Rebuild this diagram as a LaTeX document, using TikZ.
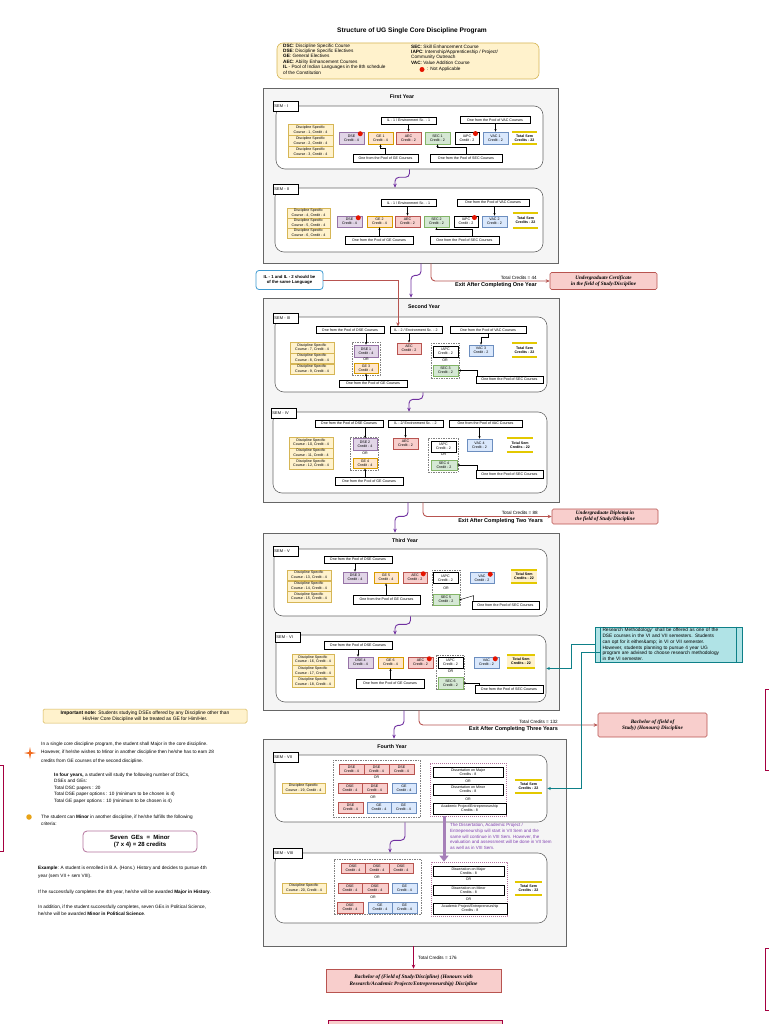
\documentclass[tikz,border=0pt]{standalone}
\usepackage{fontspec}
\setmainfont{Liberation Sans}
\newfontfamily\awardfont{Liberation Serif}
\usetikzlibrary{arrows.meta}

\definecolor{dscF}{HTML}{FFF2CC}\definecolor{dscD}{HTML}{D6B656}
\definecolor{dseF}{HTML}{E1D5E7}\definecolor{dseD}{HTML}{9673A6}
\definecolor{geF}{HTML}{FFE6CC}\definecolor{geD}{HTML}{D79B00}
\definecolor{aecF}{HTML}{F8CECC}\definecolor{aecD}{HTML}{B85450}
\definecolor{secF}{HTML}{D5E8D4}\definecolor{secD}{HTML}{82B366}
\definecolor{vacF}{HTML}{DAE8FC}\definecolor{vacD}{HTML}{6C8EBF}
\definecolor{barY}{HTML}{E3C800}
\definecolor{yearF}{HTML}{F5F5F5}\definecolor{yearD}{HTML}{666666}
\definecolor{linkP}{HTML}{7030A0}
\definecolor{exitR}{HTML}{B85450}
\definecolor{noteT}{HTML}{0E8088}\definecolor{noteF}{HTML}{B0E3E6}
\definecolor{finR}{HTML}{A50040}
\definecolor{dissD}{HTML}{B5739D}
\definecolor{naRed}{HTML}{E51400}
\definecolor{ilB}{HTML}{3D9AD1}
\definecolor{txtP}{HTML}{8040B0}
\definecolor{bigP}{HTML}{A680B8}
\definecolor{starO}{HTML}{F06A1E}
\definecolor{dotO}{HTML}{E8A317}

\newcommand{\boxfont}{\fontsize{3.6}{4.2}\selectfont}
\newcommand{\notefont}{\fontsize{4.7}{5.4}\selectfont}

\tikzset{
  course/.style={draw, line width=0.5pt, inner sep=0pt, align=center, font=\boxfont, minimum width=25pt, minimum height=11pt},
  dscbox/.style={course, fill=dscF, draw=dscD, minimum width=44pt, minimum height=10.5pt},
  dsebox/.style={course, fill=dseF, draw=dseD},
  gebox/.style={course, fill=geF, draw=geD},
  aecbox/.style={course, fill=aecF, draw=aecD},
  secbox/.style={course, fill=secF, draw=secD},
  vacbox/.style={course, fill=vacF, draw=vacD},
  iapcbox/.style={course, fill=white, draw=black, line width=0.9pt},
  poolbox/.style={course, fill=white, draw=black, line width=0.8pt, minimum width=68pt, minimum height=7pt},
  dissbox/.style={course, fill=white, draw=black, line width=0.9pt, minimum width=70pt, minimum height=10pt},
  semtotal/.style={inner sep=0pt, align=center, font=\boxfont\bfseries, minimum width=25pt, minimum height=13pt},
  ortext/.style={inner sep=0pt, font=\boxfont},
  yearbox/.style={draw=yearD, fill=yearF, line width=0.7pt, inner sep=0pt},
  sembox/.style={draw=yearD, fill=white, rounded corners=9pt, line width=0.6pt, inner sep=0pt},
  semtag/.style={draw=black, fill=white, line width=0.9pt, inner sep=1pt, text width=23pt, align=left, font=\fontsize{4}{5}\selectfont, anchor=west, minimum height=10pt},
  yeartitle/.style={font=\bfseries\fontsize{5.3}{6}\selectfont, inner sep=0pt},
  choicegrp/.style={draw=gray, line width=0.4pt, dash pattern=on 1.5pt off 1pt, inner sep=0pt},
  dissgrp/.style={draw=dissD, line width=0.8pt, dash pattern=on 0.8pt off 1.2pt, inner sep=0pt},
  nadot/.style={circle, fill=naRed, inner sep=0pt, minimum size=5pt},
  credbar/.style={draw=barY, line width=2pt},
  poolarrow/.style={draw=black, line width=0.4pt, -{Stealth[length=2.5pt,width=2pt]}},
  semarrow/.style={draw=linkP, line width=0.9pt, rounded corners=4pt, -{Stealth[length=4pt,width=3.5pt]}},
  exitarrow/.style={draw=exitR, line width=0.9pt, rounded corners=4pt, -{Stealth[length=4pt,width=3.5pt]}},
  finarrow/.style={draw=finR, line width=0.9pt, -{Stealth[length=4pt,width=3.5pt]}},
  notearrow/.style={draw=noteT, line width=0.7pt, -{Stealth[length=3.5pt,width=3pt]}},
  bigarrow/.style={draw=bigP, line width=3pt, -{Triangle[length=6pt,width=9pt]}},
  awardbox/.style={draw=aecD, fill=aecF, line width=0.6pt, rounded corners=1.5pt, align=center, inner sep=1pt, font=\awardfont\bfseries\itshape\fontsize{5.2}{6.4}\selectfont},
  credlabel/.style={font=\fontsize{4.6}{5}\selectfont, inner sep=0pt},
  exitlabel/.style={font=\bfseries\fontsize{5.5}{6}\selectfont, inner sep=0pt},
  notepara/.style={align=left, inner sep=0pt, anchor=west, font=\notefont},
}

\begin{document}
\begin{tikzpicture}[x=1pt,y=-1pt]
\path[use as bounding box, fill=white] (0,0) rectangle (768,1024);

% title and legend
\node[font=\bfseries\fontsize{6.6}{8}\selectfont] (title) at (412,31) {Structure of UG Single Core Discipline Program};
\node[draw=dscD, fill=dscF, rounded corners=6pt, line width=0.6pt, minimum width=262pt, minimum height=36pt] (legend) at (408,61) {};
\node[anchor=north west, align=left, inner sep=0pt, font=\notefont] (legl) at (283,43.5) {\textbf{DSC}: Discipline Specific Course\\\textbf{DSE}: Discipline Specific Electives\\\textbf{GE}: General Electives\\\textbf{AEC}: Ability Enhancement Courses\\\textbf{IL} - Pool of Indian Languages in the 8th schedule\\of the Constitution};
\node[anchor=north west, align=left, inner sep=0pt, font=\notefont] (legr) at (411,44.5) {\textbf{SEC}: Skill Enhancement Course\\\textbf{IAPC}: Internship/Apprenticeship / Project/\\Community Outreach\\\textbf{VAC}: Value Addition Course};
\node[nadot] (legna) at (422,69.5) {};
\node[anchor=west, inner sep=0pt, font=\notefont] (legnat) at (427,69.5) {: Not Applicable};

% year boxes
\node[yearbox, minimum width=295pt, minimum height=175pt] (y1) at (410.5,175.5) {};
\node[yearbox, minimum width=296pt, minimum height=204pt] (y2) at (411,400) {};
\node[yearbox, minimum width=296pt, minimum height=177pt] (y3) at (411,621.5) {};
\node[yearbox, minimum width=303pt, minimum height=207pt] (y4) at (414.5,842.5) {};
\node[yeartitle] (y1t) at (402,97) {First Year};
\node[yeartitle] (y2t) at (424,307) {Second Year};
\node[yeartitle] (y3t) at (405,541) {Third Year};
\node[yeartitle] (y4t) at (392,747) {Fourth Year};

% semester boxes
\node[sembox, minimum width=267pt, minimum height=63pt] (s1) at (409.5,137.5) {};
\node[sembox, minimum width=268pt, minimum height=64pt] (s2) at (409,220) {};
\node[sembox, minimum width=272pt, minimum height=75pt] (s3) at (411,354.5) {};
\node[sembox, minimum width=274pt, minimum height=81pt] (s4) at (410,452.5) {};
\node[sembox, minimum width=273pt, minimum height=67pt] (s5) at (410.5,582.5) {};
\node[sembox, minimum width=270pt, minimum height=67pt] (s6) at (411,668.5) {};
\node[sembox, minimum width=272pt, minimum height=67pt] (s7) at (411,788.5) {};
\node[sembox, minimum width=272pt, minimum height=70pt] (s8) at (411,888) {};
\node[semtag] (t1) at (273,106.5) {SEM - I};
\node[semtag] (t2) at (273,189) {SEM - II};
\node[semtag] (t3) at (273,318.5) {SEM - III};
\node[semtag] (t4) at (271,413.5) {SEM - IV};
\node[semtag] (t5) at (273,551) {SEM - V};
\node[semtag] (t6) at (275,637) {SEM - VI};
\node[semtag] (t7) at (273,757.5) {SEM - VII};
\node[semtag, text width=27pt] (t8) at (273,853) {SEM - VIII};

% SEM I
\foreach \i/\y in {1/130,2/141,3/152}
  \node[dscbox, minimum width=45pt] (s1c\i) at (310.5,\y) {Discipline Specific\\Course - \i, Credit - 4};
\node[dsebox, minimum height=12pt] (s1dse) at (351.5,138) {DSE\\Credit - 4};
\node[gebox, minimum height=12pt] (s1ge) at (380.5,138) {GE 1\\Credit - 4};
\node[aecbox, minimum height=12pt] (s1aec) at (408.5,138) {AEC\\Credit - 2};
\node[secbox, minimum height=12pt] (s1sec) at (437.5,138) {SEC 1\\Credit - 2};
\node[iapcbox, minimum width=24pt, minimum height=12pt] (s1iapc) at (467,138) {IAPC\\Credit - 2};
\node[vacbox, minimum height=12pt] (s1vac) at (495.5,138) {VAC 1\\Credit - 2};
\node[semtotal, minimum height=12pt] (s1tot) at (524.5,138) {Total Sem\\Credits - 22};
\node[poolbox, minimum width=55pt] (s1il) at (408.5,120.5) {IL - 1 / Environment Sc. - 1};
\node[poolbox, minimum width=70pt, minimum height=6.5pt] (s1vacl) at (495,120) {One from the Pool of VAC Courses};
\node[poolbox, minimum width=65pt, minimum height=8pt] (s1gel) at (385.5,158) {One from the Pool of GE Courses};
\node[poolbox, minimum width=72pt, minimum height=8pt] (s1secl) at (466,158) {One from the Pool of SEC Courses};
\draw[poolarrow] (s1il.south -| s1aec.north) -- (s1aec.north);
\draw[poolarrow] (s1vacl.south -| s1vac.north) -- (s1vac.north);
\draw[poolarrow] (s1gel.north) -- ++(0,-5) -| (s1ge.south);
\draw[poolarrow] (s1secl.north) -- ++(0,-6) -| (s1sec.south);

% SEM II
\foreach \i/\y [count=\k] in {4/213,5/223,6/233}
  \node[dscbox, minimum width=43pt, minimum height=10pt] (s2c\k) at (308.5,\y) {Discipline Specific\\Course - \i, Credit - 4};
\node[dsebox] (s2dse) at (349.5,221.5) {DSE\\Credit - 4};
\node[gebox] (s2ge) at (379.5,221.5) {GE 2\\Credit - 4};
\node[aecbox] (s2aec) at (407.5,221.5) {AEC\\Credit - 2};
\node[secbox] (s2sec) at (436.5,221.5) {SEC 2\\Credit - 2};
\node[iapcbox, minimum width=24pt] (s2iapc) at (466,221.5) {IAPC\\Credit - 2};
\node[vacbox] (s2vac) at (494.5,221.5) {VAC 2\\Credit - 2};
\node[semtotal, minimum height=15pt] (s2tot) at (525.5,220.5) {Total Sem\\Credits - 22};
\node[poolbox, minimum width=55pt] (s2il) at (408.5,203) {IL - 1 / Environment Sc. - 1};
\node[poolbox, minimum width=72pt] (s2vacl) at (493,202.5) {One from the Pool of VAC Courses};
\node[poolbox, minimum width=68pt, minimum height=7.5pt] (s2gel) at (379,240.5) {One from the Pool of GE Courses};
\node[poolbox, minimum width=69pt, minimum height=7.5pt] (s2secl) at (464.5,240.5) {One from the Pool of SEC Courses};
\draw[poolarrow] (s2il.south -| s2aec.north) -- (s2aec.north);
\draw[poolarrow] (s2vacl.south -| s2vac.north) -- (s2vac.north);
\draw[poolarrow] (s2gel.north -| s2ge.south) -- (s2ge.south);
\draw[poolarrow] ([xshift=7.5pt]s2secl.north) -- ++(0,-7) -| (s2sec.south);

% SEM III
\foreach \i/\y [count=\k] in {7/347.5,8/358,9/369}
  \node[dscbox] (s3c\k) at (312,\y) {Discipline Specific\\Course - \i, Credit - 4};
\node[choicegrp, minimum width=28pt, minimum height=33pt] (s3g1) at (366,358.5) {};
\node[dsebox, minimum width=24pt, minimum height=12pt] (s3dse) at (366,351) {DSE 1\\Credit - 4};
\node[ortext] (s3or1) at (366,359.5) {OR};
\node[gebox, minimum width=24pt, minimum height=10.5pt] (s3ge) at (366,368) {GE 3\\Credit - 4};
\node[aecbox, minimum width=24pt] (s3aec) at (409,348.5) {AEC\\Credit - 2};
\node[choicegrp, minimum width=28pt, minimum height=35pt] (s3g2) at (445,360.5) {};
\node[iapcbox] (s3iapc) at (445.5,351.5) {IAPC\\Credit - 2};
\node[ortext] (s3or2) at (445,360.5) {OR};
\node[secbox] (s3sec) at (445.5,370.5) {SEC 3\\Credit - 2};
\node[vacbox, minimum width=24pt] (s3vac) at (481,350.5) {VAC 3\\Credit - 2};
\node[semtotal, minimum height=14pt] (s3tot) at (524.5,350) {Total Sem\\Credits - 22};
\node[poolbox, minimum height=6.5pt] (s3dsel) at (350,330) {One from the Pool of DSE Courses};
\node[poolbox, minimum width=52pt, minimum height=6.5pt] (s3il) at (416,330) {IL - 2 / Environment Sc. - 2};
\node[poolbox, minimum width=76pt, minimum height=6.5pt] (s3vacl) at (488,330) {One from the Pool of VAC Courses};
\node[poolbox] (s3gel) at (373,383.5) {One from the Pool of GE Courses};
\node[poolbox, minimum width=67pt] (s3secl) at (509.5,379.5) {One from the Pool of SEC Courses};
\draw[poolarrow] (s3dsel.south -| s3dse.north) -- (s3dse.north);
\draw[poolarrow] (s3il.south -| s3aec.north) -- (s3aec.north);
\draw[poolarrow] (s3vacl.south) -- ++(0,4) -| (s3vac.north);
\draw[poolarrow] (s3gel.north -| s3ge.south) -- (s3ge.south);
\draw[poolarrow] ([xshift=2pt]s3secl.north west) |- (s3sec.east);

% SEM IV
\foreach \i/\y [count=\k] in {10/442.5,11/453,12/463.5}
  \node[dscbox] (s4c\k) at (311,\y) {Discipline Specific\\Course - \i, Credit - 4};
\node[choicegrp, minimum width=28pt, minimum height=33pt] (s4g1) at (364,453.5) {};
\node[dsebox, minimum width=24pt, minimum height=12pt] (s4dse) at (365,444.5) {DSE 2\\Credit - 4};
\node[ortext] (s4or1) at (365,453) {OR};
\node[gebox, minimum width=24pt, minimum height=10.5pt] (s4ge) at (365,463) {GE 4\\Credit - 4};
\node[aecbox] (s4aec) at (405.5,443.5) {AEC\\Credit - 2};
\node[choicegrp, minimum width=30pt, minimum height=34pt] (s4g2) at (443,455) {};
\node[iapcbox] (s4iapc) at (443.5,446.5) {IAPC\\Credit - 2};
\node[ortext] (s4or2) at (443.5,454.5) {OR};
\node[secbox, minimum width=26pt, minimum height=10pt] (s4sec) at (444,465) {SEC 4\\Credit - 2};
\node[vacbox, minimum height=12pt] (s4vac) at (479.5,445) {VAC 4\\Credit - 2};
\node[semtotal, minimum width=26pt, minimum height=14pt] (s4tot) at (520,445) {Total Sem\\Credits - 22};
\node[poolbox] (s4dsel) at (349,423.5) {One from the Pool of DSE Courses};
\node[poolbox, minimum width=55pt] (s4il) at (415.5,423.5) {IL - 2/ Environment Sc. - 2};
\node[poolbox, minimum width=73pt] (s4vacl) at (485.5,423.5) {One from the Pool of VAC Courses};
\node[poolbox, minimum height=8pt] (s4gel) at (369,481) {One from the Pool of GE Courses};
\node[poolbox, minimum width=67pt, minimum height=8pt] (s4secl) at (509.5,474) {One from the Pool of SEC Courses};
\draw[poolarrow] (s4dsel.south -| s4dse.north) -- (s4dse.north);
\draw[poolarrow] (s4il.south -| s4aec.north) -- (s4aec.north);
\draw[poolarrow] (s4vacl.south -| s4vac.north) -- (s4vac.north);
\draw[poolarrow] (s4gel.north -| s4ge.south) -- (s4ge.south);
\draw[poolarrow] ([xshift=2pt]s4secl.north west) |- (s4sec.east);

% SEM V
\foreach \i/\y [count=\k] in {13/575,14/586,15/596.5}
  \node[dscbox] (s5c\k) at (309,\y) {Discipline Specific\\Course - \i, Credit - 4};
\node[dsebox, minimum width=24pt] (s5dse) at (355,577.5) {DSE 3\\Credit - 4};
\node[gebox, minimum width=24pt] (s5ge) at (386,577.5) {GE 5\\Credit - 4};
\node[aecbox, minimum width=24pt] (s5aec) at (415,577.5) {AEC\\Credit - 2};
\node[choicegrp, minimum width=28pt, minimum height=35pt] (s5g) at (446,587.5) {};
\node[iapcbox, minimum height=10.5pt] (s5iapc) at (445.5,578) {IAPC\\Credit - 2};
\node[ortext] (s5or) at (446,588) {OR};
\node[secbox, minimum width=26pt] (s5sec) at (446,599.5) {SEC 5\\Credit - 2};
\node[vacbox, minimum width=24pt] (s5vac) at (482,578) {VAC\\Credit - 2};
\node[semtotal, fill=dscF, minimum width=26pt] (s5tot) at (524,576.5) {Total Sem\\Credits - 22};
\node[poolbox] (s5dsel) at (358,559.5) {One from the Pool of DSE Courses};
\node[poolbox, minimum width=67pt, minimum height=9pt] (s5gel) at (386.5,599.5) {One from the Pool of GE Courses};
\node[poolbox, minimum width=67pt, minimum height=8pt] (s5secl) at (505.5,605) {One from the Pool of SEC Courses};
\draw[poolarrow] (s5dsel.south -| s5dse.north) -- (s5dse.north);
\draw[poolarrow] (s5gel.north -| s5ge.south) -- (s5ge.south);
\draw[poolarrow] ([xshift=2pt]s5secl.north west) -- ++(0,-5) -- (s5sec.east |- 0,600);

% SEM VI
\foreach \i/\y [count=\k] in {16/659.5,17/671,18/682}
  \node[dscbox, minimum width=42pt, minimum height=11pt] (s6c\k) at (313,\y) {Discipline Specific\\Course - \i, Credit - 4};
\node[dsebox] (s6dse) at (360.5,662.5) {DSE 4\\Credit - 4};
\node[gebox] (s6ge) at (390.5,662.5) {GE 6\\Credit - 4};
\node[aecbox] (s6aec) at (420.5,662.5) {AEC\\Credit - 2};
\node[choicegrp, minimum width=28pt, minimum height=34pt] (s6g) at (450,672) {};
\node[iapcbox] (s6iapc) at (450.5,662.5) {IAPC\\Credit - 2};
\node[ortext] (s6or) at (450.5,671.5) {OR};
\node[secbox, minimum height=12pt] (s6sec) at (450.5,683) {SEC 6\\Credit - 2};
\node[vacbox] (s6vac) at (486.5,662.5) {VAC\\Credit - 2};
\node[semtotal, fill=dscF, minimum width=28pt] (s6tot) at (521,661.5) {Total Sem\\Credits - 22};
\node[poolbox, minimum height=8pt] (s6dsel) at (358,645) {One from the Pool of DSE Courses};
\node[poolbox, minimum height=9pt] (s6gel) at (390,683.5) {One from the Pool of GE Courses};
\node[poolbox, minimum height=8pt] (s6secl) at (509,689) {One from the Pool of SEC Courses};
\draw[poolarrow] (s6dsel.south) -- (s6dsel.south |- s6dse.north);
\draw[poolarrow] (s6gel.north -| s6ge.south) -- (s6ge.south);
\draw[poolarrow] ([xshift=5pt]s6secl.north west) |- (s6sec.east);

% SEM VII
\node[dscbox, minimum width=43pt, minimum height=10pt] (s7c) at (303.5,788) {Discipline Specific\\Course - 19, Credit - 4};
\node[choicegrp, minimum width=87pt, minimum height=57pt] (s7g) at (376.5,788.5) {};
\foreach \x/\n in {351.5/a,376.5/b,401.5/c}
  \node[aecbox, minimum height=10pt] (s7r1\n) at (\x,769) {DSE\\Credit - 4};
\node[ortext] (s7or1) at (376.5,777.5) {OR};
\node[aecbox, minimum width=24pt, minimum height=10pt] (s7r2a) at (350,788) {DSE\\Credit - 4};
\node[aecbox, minimum height=10pt] (s7r2b) at (374.5,788) {DSE\\Credit - 4};
\node[vacbox, minimum width=24pt, minimum height=10pt] (s7r2c) at (404,788) {GE\\Credit - 4};
\node[ortext] (s7or2) at (373,797) {OR};
\node[aecbox] (s7r3a) at (350.5,807.5) {DSE\\Credit - 4};
\node[vacbox, minimum width=24pt] (s7r3b) at (379,807.5) {GE\\Credit - 4};
\node[vacbox] (s7r3c) at (403.5,807.5) {GE\\Credit - 4};
\node[dissgrp, minimum width=76pt, minimum height=53pt] (s7dg) at (468,789.5) {};
\node[dissbox] (s7d1) at (468,772) {Dissertation on Major\\Credits - 8};
\node[ortext] (s7or3) at (468,781) {OR};
\node[dissbox, minimum height=11pt] (s7d2) at (468,789.5) {Dissertation on Minor\\Credits - 8};
\node[ortext] (s7or4) at (468,799) {OR};
\node[dissbox, minimum width=73pt, minimum height=11pt] (s7d3) at (469.5,808.5) {Academic Project/Entrepreneurship\\Credits - 8};
\node[semtotal, minimum width=27pt] (s7tot) at (528.5,786.5) {Total Sem\\Credits - 22};

% SEM VIII
\node[dscbox, minimum width=44pt, minimum height=10pt] (s8c) at (304,888) {Discipline Specific\\Course - 20, Credit - 4};
\node[choicegrp, minimum width=87pt, minimum height=55pt] (s8g) at (377.5,886.5) {};
\foreach \x/\n in {353/a,377/b,401/c}
  \node[aecbox, minimum width=24pt, minimum height=10pt] (s8r1\n) at (\x,868) {DSE\\Credit - 4};
\node[ortext] (s8or1) at (377,877) {OR};
\node[aecbox, minimum width=24pt, minimum height=10pt] (s8r2a) at (350,888) {DSE\\Credit - 4};
\node[aecbox, minimum width=26pt, minimum height=10pt] (s8r2b) at (375,888) {DSE\\Credit - 4};
\node[vacbox, minimum height=10pt] (s8r2c) at (404.5,888) {GE\\Credit - 4};
\node[ortext] (s8or2) at (373,897) {OR};
\node[aecbox, minimum width=26pt] (s8r3a) at (350,907.5) {DSE\\Credit - 4};
\node[vacbox, minimum width=24pt] (s8r3b) at (380,907.5) {GE\\Credit - 4};
\node[vacbox] (s8r3c) at (404.5,907.5) {GE\\Credit - 4};
\node[dissgrp, minimum width=76pt, minimum height=54pt] (s8dg) at (469,889) {};
\node[dissbox, minimum width=71pt] (s8d1) at (468.5,871) {Dissertation on Major\\Credits - 8};
\node[ortext] (s8or3) at (468.5,879.5) {OR};
\node[dissbox, minimum width=71pt] (s8d2) at (468.5,890) {Dissertation on Minor\\Credits - 8};
\node[ortext] (s8or4) at (468.5,899) {OR};
\node[dissbox, minimum width=74pt, minimum height=11pt] (s8d3) at (470,908.5) {Academic Project/Entrepreneurship\\Credits - 8};
\node[semtotal, minimum width=27pt] (s8tot) at (528.5,888.5) {Total Sem\\Credits - 22};

\coordinate (bigx) at (444,0);
\draw[bigarrow] (s7dg.south -| bigx) -- (s8dg.north -| bigx);
\node[notepara, text=txtP, font=\fontsize{4.5}{5.8}\selectfont] (dissnote) at (450,836.5) {The Dissertation, Academic Project /\\Entrepeneurship will start in VII Sem and the\\same will continue in VIII Sem. However, the\\evaluation and assessment will be done in VII Sem\\as well as in VIII Sem.};

% yellow bars and not applicable dots
\foreach \n in {s1tot,s2tot,s3tot,s4tot,s5tot,s6tot,s7tot,s8tot} {
  \draw[credbar] (\n.north west) -- (\n.north east);
  \draw[credbar] (\n.south west) -- (\n.south east);
}
\foreach \n in {s1dse,s1iapc,s2dse,s2iapc,s5aec,s5vac,s6aec,s6vac}
  \node[nadot] (\n-na) at ([xshift=-4pt,yshift=-2pt]\n.north east) {};

% semester and year links
\draw[semarrow] (s1.south) -- ++(0,8) -| ([xshift=-14pt]s2.north);
\draw[semarrow] ([xshift=10.5pt]y1.south) -- ++(0,12) -| (y2.north);
\draw[semarrow] ([xshift=12pt]s3.south) -- ++(0,7) -| ([xshift=-1pt]s4.north);
\draw[semarrow] ([xshift=-3pt]y2.south) -- ++(0,14) -| ([xshift=-16pt]y3.north);
\draw[semarrow] (s5.south) -- ++(0,8) -| ([xshift=-16pt]s6.north);
\draw[semarrow] ([xshift=-7pt]y3.south) -- ++(0,15) -| ([xshift=-20.5pt]y4.north);
\draw[semarrow] ([xshift=-6pt]s7.south) -- ++(0,18) -| ([xshift=-21pt]s8.north);

% exits
\node[awardbox, minimum width=107pt, minimum height=17pt] (cert) at (603.5,281) {Undergraduate Certificate\\in the field of Study/Discipline};
\draw[exitarrow] ([xshift=20.5pt]y1.south) |- (cert.west);
\node[credlabel, anchor=south east] (cr1) at (537,279.5) {Total Credits = 44};
\node[exitlabel, anchor=north east] (ex1) at (537,282.5) {Exit After Completing One Year};

\node[awardbox, minimum width=106pt, minimum height=15pt] (dipl) at (605,516.5) {Undergraduate Diploma in\\the field of Study/Discipline};
\draw[exitarrow] ([xshift=12pt]y2.south) |- (dipl.west);
\node[credlabel, anchor=south east] (cr2) at (538,515) {Total Credits = 88};
\node[exitlabel, anchor=north east] (ex2) at (543,518.5) {Exit After Completing Two Years};

\node[awardbox, minimum width=109pt, minimum height=24pt] (bach) at (652.5,725) {Bachelor of (field of\\Study) (Honours) Discipline};
\draw[exitarrow] ([xshift=8pt]y3.south) |- (bach.west);
\node[credlabel, anchor=south east] (cr3) at (558,723.5) {Total Credits = 132};
\node[exitlabel, anchor=north east] (ex3) at (558,726.5) {Exit After Completing Three Years};

\node[awardbox, rounded corners=0pt, minimum width=175pt, minimum height=23pt, font=\awardfont\bfseries\itshape\fontsize{5.3}{7}\selectfont] (fin) at (413.5,980.5) {Bachelor of (Field of Study/Discipline) (Honours with\\Research/Academic Projects/Entrepreneurship) Discipline};
\draw[finarrow] (y4.south -| fin.north) -- (fin.north);
\node[credlabel, anchor=west] (cr4) at (418,958) {Total Credits = 176};

% side notes
\node[draw=ilB, fill=white, rounded corners=3pt, line width=0.8pt, minimum width=67pt, minimum height=19pt, align=center, inner sep=0pt, font=\bfseries\fontsize{4.3}{5.5}\selectfont] (ilnote) at (289.5,280) {IL - 1 and IL - 2 should be\\of the same Language};
\draw[exitarrow, rounded corners=0pt] (ilnote.east) -| ([xshift=-18pt]s3il.north);

\node[draw=noteT, fill=noteF, line width=0.7pt, minimum width=147pt, minimum height=35pt, inner sep=0pt, text width=132pt, align=left, font=\fontsize{4.8}{5.7}\selectfont] (rmnote) at (668.5,644.5) {Research Methodology' shall be offered as one of the\\DSE courses in the VI and VII semesters. Students\\can opt for it either\&amp; in VI or VII semester.\\However, students planning to pursue 4 year UG\\program are advised to choose research methodology\\in the VI semester.};
\draw[noteT, line width=0.7pt] ([xshift=6pt]rmnote.north west) -- ([xshift=6pt]rmnote.south west);
\draw[noteT, line width=0.7pt] ([xshift=-6pt]rmnote.north east) -- ([xshift=-6pt]rmnote.south east);
\draw[notearrow] (rmnote.west) -- ++(-23,0) |- (s6.east);
\coordinate (rmtap) at ([xshift=6pt,yshift=-8pt]rmnote.west);
\draw[notearrow] (rmtap) -- ++(-19,0) |- (s7.east);

% left notes
\node[draw=dscD, fill=dscF, rounded corners=1.5pt, line width=0.5pt, minimum width=204pt, minimum height=14pt, align=center, inner sep=0pt, font=\fontsize{4.9}{5.8}\selectfont] (impnote) at (145,716) {\textbf{Important note:} Students studying DSEs offered by any Discipline other than\\His/Her Core Discipline will be treated as GE for Him/Her.};
\fill[starO] (30,747) -- (31,752) -- (36,753) -- (31,754) -- (30,759) -- (29,754) -- (24,753) -- (29,752) -- cycle;
\node[notepara, font=\fontsize{4.7}{8.4}\selectfont] (para1) at (41,752.5) {In a single core discipline program, the student shall Major in the core discipline.\\However, if he/she wishes to Minor in another discipline then he/she has to earn 28\\credits from GE courses of the second discipline.};
\node[notepara, font=\fontsize{4.7}{6.5}\selectfont] (para2) at (54,788) {\textbf{In four years,} a student will study the following number of DSCs,\\DSEs and GEs:\\Total DSC papers : 20\\Total DSE paper options : 10 (minimum to be chosen is 4)\\Total GE paper options : 10 (minimum to be chosen is 4)};
\node[circle, fill=dotO, inner sep=0pt, minimum size=5.5pt] (dot1) at (29,817) {};
\node[notepara, font=\fontsize{4.7}{7}\selectfont] (para3) at (41,820.5) {The student can \textbf{Minor} in another discipline, if he/she fulfills the following\\criteria:};
\node[draw=dissD, fill=white, rounded corners=4pt, line width=0.8pt, minimum width=114pt, minimum height=21pt, align=center, inner sep=0pt, font=\bfseries\fontsize{6}{7.5}\selectfont] (minorbox) at (140,841.5) {Seven\ \ GEs\ \ =\ \ Minor\\(7 x 4) = 28 credits};
\node[notepara, font=\fontsize{4.7}{8}\selectfont] (para4) at (38,872) {\textbf{Example}: A student is enrolled in B.A. (Hons.) History and decides to pursue 4th\\year (sem VII + sem VIII).};
\node[notepara] (para5) at (38,892) {If he successfully completes the 4th year, he/she will be awarded \textbf{Major in History}.};
\node[notepara, font=\fontsize{4.7}{7.5}\selectfont] (para6) at (38,910.5) {In addition, if the student successfully completes, seven GEs in Political Science,\\he/she will be awarded \textbf{Minor in Political Science}.};

% page edge marks
\draw[draw=finR, fill=aecF, line width=0.6pt] (328,1020) rectangle (502,1027);
\draw[draw=finR, line width=0.6pt] (-3,765) rectangle (3,851);
\draw[draw=finR, line width=0.6pt] (765,689) rectangle (771,770);
\draw[draw=finR, line width=0.6pt] (765,948) rectangle (771,1010);
\end{tikzpicture}
\end{document}
